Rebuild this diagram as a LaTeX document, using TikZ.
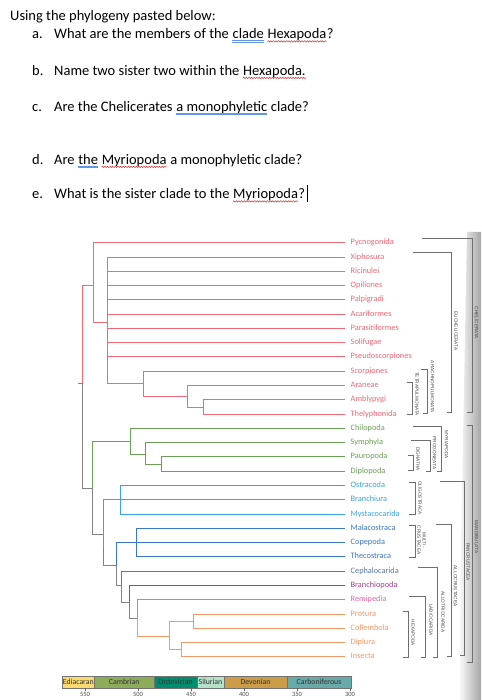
\documentclass[tikz,border=0pt]{standalone}
\usepackage{fontspec}
\setmainfont{Carlito}
\newfontfamily\tipfont{Carlito}
\newfontfamily\brkfont{Liberation Sans}
\usetikzlibrary{decorations.pathmorphing}
\definecolor{cRed}{RGB}{242,104,118}
\definecolor{cGreen}{RGB}{108,160,88}
\definecolor{cLBlue}{RGB}{60,162,230}
\definecolor{cDBlue}{RGB}{60,120,200}
\definecolor{cSlate}{RGB}{90,120,170}
\definecolor{cPurple}{RGB}{170,60,150}
\definecolor{cPink}{RGB}{236,104,168}
\definecolor{cOrange}{RGB}{244,152,104}
\definecolor{cGray}{RGB}{130,130,130}
\definecolor{cBrk}{RGB}{110,110,110}
\definecolor{wordblue}{RGB}{100,150,230}
\definecolor{wordred}{RGB}{225,50,50}
\definecolor{cEdi}{RGB}{250,218,110}
\definecolor{cCam}{RGB}{140,172,90}
\definecolor{cOrd}{RGB}{0,140,110}
\definecolor{cSil}{RGB}{180,225,200}
\definecolor{cDev}{RGB}{204,157,72}
\definecolor{cCar}{RGB}{104,170,170}
\tikzset{
  tr/.style={line width=0.95pt},
  tip/.style={anchor=west, inner sep=2.5pt, font=\tipfont\fontsize{8.3}{9}\selectfont, text height=5.7pt, text depth=1.6pt},
  brk/.style={draw=cBrk, line width=0.45pt},
  brklab/.style={font=\brkfont\fontsize{4.7}{5.2}\selectfont, text=black!70, rotate=-90, inner sep=0pt, align=center},
  q/.style={anchor=base west, inner sep=0pt, font=\fontsize{14.5}{17}\selectfont},
  qs/.style={q, xshift=3.3pt},
  gram/.style={draw=wordblue, line width=0.45pt},
  spell/.style={draw=wordred, line width=0.5pt, decorate, decoration={snake, segment length=2.6pt, amplitude=0.7pt}},
  seg/.style={draw=black!55, line width=0.4pt},
  barlab/.style={font=\tipfont\fontsize{7.8}{8}\selectfont, text=black!80, inner sep=0pt},
  num/.style={font=\tipfont\fontsize{6.5}{7}\selectfont, text=black!70, anchor=north, inner sep=0pt},
}
\begin{document}
\begin{tikzpicture}[x=1pt,y=-1pt]
\useasboundingbox (0,0) rectangle (481,700);
\clip (0,0) rectangle (481,700);
\fill[white] (0,0) rectangle (481,700);
% ---------- questions ----------
\node[q] (q0) at (10,20.5) {Using the phylogeny pasted below:};
\node[q] (qa0) at (32,39) {a.};
\node[q] (qa1) at (54,39) {What are the members of the};
\node[qs] (qa2) at (qa1.base east) {clade};
\node[qs] (qa3) at (qa2.base east) {Hexapoda};
\node[q] (qa4) at (qa3.base east) {?};
\node[q] (qb0) at (32,75.5) {b.};
\node[q] (qb1) at (54,75.5) {Name two sister two within the};
\node[qs] (qb2) at (qb1.base east) {Hexapoda.};
\node[q] (qc0) at (32,111.5) {c.};
\node[q] (qc1) at (54,111.5) {Are the Chelicerates};
\node[qs] (qc2) at (qc1.base east) {a monophyletic};
\node[qs] (qc3) at (qc2.base east) {clade?};
\node[q] (qd0) at (32,164.5) {d.};
\node[q] (qd1) at (54,164.5) {Are};
\node[qs] (qd2) at (qd1.base east) {the};
\node[qs] (qd3) at (qd2.base east) {Myriopoda};
\node[qs] (qd4) at (qd3.base east) {a monophyletic clade?};
\node[q] (qe0) at (32,199) {e.};
\node[q] (qe1) at (54,199) {What is the sister clade to the};
\node[qs] (qe2) at (qe1.base east) {Myriopoda};
\node[q] (qe3) at (qe2.base east) {?};
\foreach \n in {qa2,qc2,qd2}{
  \draw[gram] ([yshift=-1.6pt]\n.base west) -- ([yshift=-1.6pt]\n.base east);
  \draw[gram] ([yshift=-3.1pt]\n.base west) -- ([yshift=-3.1pt]\n.base east);
}
\foreach \n in {qa3,qb2,qd3,qe2}{
  \draw[spell] ([yshift=-2.4pt]\n.base west) -- ([yshift=-2.4pt]\n.base east);
}
\draw[line width=0.6pt] ([xshift=2pt,yshift=-3pt]qe3.base east) -- ([xshift=2pt,yshift=13.5pt]qe3.base east);
% ---------- page shading on the right ----------
\shade[left color=white, right color=black!35] (467,232) -- (481,232) -- (481,700) -- (458,700) -- cycle;
% ---------- tip labels ----------
\foreach \i/\y/\c/\t in {
 0/242.7/cRed/Pycnogonida, 1/257.0/cRed/Xiphosura, 2/271.3/cRed/Ricinulei,
 3/285.5/cRed/Opiliones, 4/299.8/cRed/Palpigradi, 5/314.1/cRed/Acariformes,
 6/328.4/cRed/Parasitiformes, 7/342.7/cRed/Solifugae, 8/356.9/cRed/Pseudoscorpiones,
 9/371.2/cRed/Scorpiones, 10/385.5/cRed/Araneae, 11/399.8/cRed/Amblypygi,
 12/414.0/cRed/Thelyphonida, 13/428.3/cGreen/Chilopoda, 14/442.6/cGreen/Symphyla,
 15/456.9/cGreen/Pauropoda, 16/471.2/cGreen/Diplopoda, 17/485.5/cLBlue/Ostracoda,
 18/499.8/cLBlue/Branchiura, 19/514.0/cLBlue/Mystacocarida, 20/528.3/cDBlue/Malacostraca,
 21/542.6/cDBlue/Copepoda, 22/556.9/cDBlue/Thecostraca, 23/571.2/cSlate/Cephalocarida,
 24/585.5/cPurple/Branchiopoda, 25/599.7/cPink/Remipedia, 26/614.0/cOrange/Protura,
 27/628.3/cOrange/Collembola, 28/642.6/cOrange/Diplura, 29/656.9/cOrange/Insecta}
 {\node[tip, text=\c] (n\i) at (348,\y) {\t};}
% ---------- tip branches ----------
\foreach \i/\x/\c in {
 0/93/cRed, 1/107/cRed, 2/107/cRed, 3/107/cRed, 4/107/cRed, 5/107/cRed, 6/107/cRed,
 7/107/cRed, 8/107/cRed, 9/143/cRed, 10/187/cRed, 11/203/cRed, 12/203/cRed,
 13/130/cGreen, 14/145/cGreen, 15/161/cGreen, 16/161/cGreen,
 17/120/cLBlue, 18/103/cLBlue, 19/120/cLBlue, 20/136/cDBlue, 21/116/cDBlue, 22/136/cDBlue,
 23/121/cSlate, 24/129/cPurple, 25/137/cPink, 26/193/cOrange, 27/193/cOrange,
 28/181/cOrange, 29/181/cOrange}
 {\draw[tr, \c] (n\i.west -| \x,0) -- ([xshift=-3pt]n\i.west);}
% ---------- internal branches ----------
% root
\draw[tr, cRed] (82,285) -- (82,383);
\draw[tr, cGray] (82,383) -- (82,488);
\draw[tr, cGray] (78,383) -- (82,383);
% Chelicerata
\draw[tr, cRed] (82,285) -- (93,285);
\draw[tr, cRed] (93,242.7) -- (93,322);
\draw[tr, cRed] (93,322) -- (107,322);
\draw[tr, cRed] (107,257) -- (107,383.6);
\draw[tr, cRed] (107,383.6) -- (143,383.6);
\draw[tr, cRed] (143,371.2) -- (143,396.2);
\draw[tr, cRed] (143,396.2) -- (187,396.2);
\draw[tr, cRed] (187,385.5) -- (187,407);
\draw[tr, cRed] (187,407) -- (203,407);
\draw[tr, cRed] (203,399.8) -- (203,414);
% Mandibulata
\draw[tr, cGray] (82,488) -- (92,488);
\draw[tr, cGreen] (92,441) -- (92,488);
\draw[tr, cGray] (92,488) -- (92,534);
% Myriapoda
\draw[tr, cGreen] (92,441) -- (130,441);
\draw[tr, cGreen] (130,428.3) -- (130,454);
\draw[tr, cGreen] (130,454) -- (145,454);
\draw[tr, cGreen] (145,442.6) -- (145,464);
\draw[tr, cGreen] (145,464) -- (161,464);
\draw[tr, cGreen] (161,456.9) -- (161,471.2);
% Pancrustacea
\draw[tr, cGray] (92,534) -- (103,534);
\draw[tr, cLBlue] (103,499.8) -- (103,548);
\draw[tr, cGray] (103,548) -- (103,565);
\draw[tr, cLBlue] (120,485.5) -- (120,514);
\draw[tr, cGray] (103,565) -- (116,565);
\draw[tr, cDBlue] (116,542.6) -- (116,565);
\draw[tr, cGray] (116,565) -- (116,585);
\draw[tr, cDBlue] (136,528.3) -- (136,556.9);
\draw[tr, cGray] (116,585) -- (121,585);
\draw[tr, cSlate] (121,571.2) -- (121,585);
\draw[tr, cGray] (121,585) -- (121,602);
\draw[tr, cGray] (121,602) -- (129,602);
\draw[tr, cPurple] (129,585.5) -- (129,602);
\draw[tr, cGray] (129,602) -- (129,618);
\draw[tr, cGray] (129,618) -- (137,618);
\draw[tr, cPink] (137,599.7) -- (137,618);
\draw[tr, cOrange] (137,618) -- (137,636);
\draw[tr, cOrange] (137,636) -- (169,636);
\draw[tr, cOrange] (169,621) -- (169,649.7);
\draw[tr, cOrange] (169,621) -- (193,621);
\draw[tr, cOrange] (193,614) -- (193,628.3);
\draw[tr, cOrange] (169,649.7) -- (181,649.7);
\draw[tr, cOrange] (181,642.6) -- (181,656.9);
% ---------- clade brackets ----------
\draw[brk] (422,238) -- (472,238) -- (472,412) -- (467,412);
\node[brklab] (lChel) at (476.5,323) {CHELICERATA};
\draw[brk] (413,252) -- (451,252) -- (451,412) -- (447,412);
\node[brklab] (lEuch) at (456,331) {EUCHELICERATA};
\draw[brk] (421,369) -- (427,369) -- (427,413) -- (423,413);
\node[brklab] (lArach) at (432.5,387) {ARACHNOPULMONATA};
\draw[brk] (407,382) -- (412,382) -- (412,414) -- (407,414);
\node[brklab] (lTetra) at (417,394) {TETRAPULMONATA};
\draw[brk] (413,426) -- (441,426) -- (441,471) -- (437,471);
\node[brklab] (lMyr) at (446.5,445) {MYRIAPODA};
\draw[brk] (411,440) -- (430,440) -- (430,471) -- (426,471);
\node[brklab] (lProg) at (434.5,453) {PROGONEATA};
\draw[brk] (408,455) -- (413,455) -- (413,470) -- (408,470);
\node[brklab] (lDign) at (418,459) {DIGNATHA};
\draw[brk] (409,482) -- (415,482) -- (415,514) -- (409,514);
\node[brklab] (lOlig) at (420,498) {OLIGOSTRACA};
\draw[brk] (409,525) -- (415,525) -- (415,557) -- (409,557);
\node[brklab] (lMulti) at (421.5,540) {MULTI-\\CRUSTACEA};
\draw[brk] (467,425) -- (472,425) -- (472,662) -- (467,662);
\node[brklab] (lMand) at (476.5,537) {MANDIBULATA};
\draw[brk] (440,481) -- (464,481) -- (464,655) -- (460,655);
\node[brklab] (lPanc) at (468,562) {PANCRUSTACEA};
\draw[brk] (436,524) -- (451,524) -- (451,656) -- (447,656);
\node[brklab] (lAlloc) at (455.5,586) {ALLOCRUSTACEA};
\draw[brk] (418,567) -- (437,567) -- (437,657) -- (433,657);
\node[brklab] (lAllot) at (443,612) {ALLOTRIOCARIDA};
\draw[brk] (409,596) -- (425,596) -- (425,657) -- (421,657);
\node[brklab] (lLabio) at (431,620) {LABIOCARIDA};
\draw[brk] (403,611) -- (408,611) -- (408,657) -- (403,657);
\node[brklab] (lHexa) at (413,633) {HEXAPODA};
% ---------- time scale ----------
\draw[seg, fill=cEdi] (62,676) rectangle (94.5,688);
\draw[seg, fill=cCam] (94.5,676) rectangle (154,688);
\draw[seg, fill=cOrd] (154,676) rectangle (197,688);
\draw[seg, fill=cSil] (197,676) rectangle (224,688);
\draw[seg, fill=cDev] (224,676) rectangle (287,688);
\draw[seg, fill=cCar] (287,676) rectangle (351,688);
\node[barlab] (bEdi) at (78.3,682) {Ediacaran};
\node[barlab] (bCam) at (124.2,682) {Cambrian};
\node[barlab] (bOrd) at (175.5,682) {Ordovician};
\node[barlab] (bSil) at (210.5,682) {Silurian};
\node[barlab] (bDev) at (255.5,682) {Devonian};
\node[barlab] (bCar) at (319,682) {Carboniferous};
\foreach \x/\t in {85/550,138/500,191/450,244/400,297/350,350/300}{
  \draw[black!60, line width=0.4pt] (\x,688) -- (\x,691);
  \node[num] (t\t) at (\x,692.2) {\t};
}
\end{tikzpicture}
\end{document}
